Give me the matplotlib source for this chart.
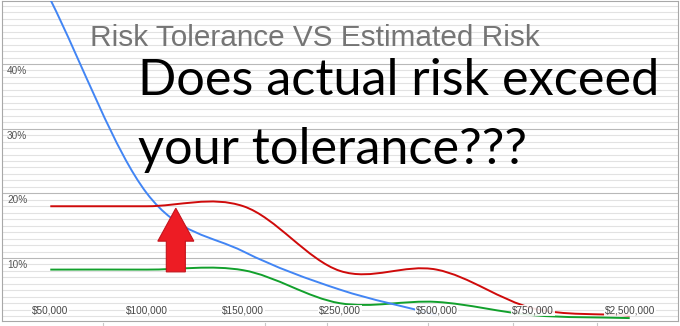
import matplotlib
matplotlib.use('Agg')
import matplotlib.pyplot as plt
import matplotlib.transforms as mtransforms
from matplotlib.path import Path
from matplotlib.patches import PathPatch, FancyArrow
from matplotlib.lines import Line2D

# income brackets on the category axis
categories = ['$50,000', '$100,000', '$150,000', '$250,000',
              '$500,000', '$750,000', '$2,500,000']
# estimated risk (%), only known up to $500,000
estimated_risk = [50.0, 20.0, 11.0, 5.1, 1.2]
# tolerance band (%)
tolerance_high = [18.0, 18.0, 18.0, 8.0, 8.2, 2.2, 1.1]
tolerance_low = [8.2, 8.2, 8.1, 3.0, 3.2, 1.15, 0.7]
y_ticks = [10, 20, 30, 40]

W, H = 680, 326
fig = plt.figure(figsize=(W / 100, H / 100), dpi=100)
ax = fig.add_axes([2 / W, 5 / H, 676 / W, 320 / H])
ax.set_xlim(-0.5, 6.5)
ax.set_ylim(0.25, 49.75)
ax.set_xticks([])
ax.set_yticks([])
for s in ax.spines.values():
    s.set_color('#a8a8a8')
    s.set_linewidth(0.8)

# gridlines: light every 1%, darker every 10%
for v in range(1, 50):
    major = v % 10 == 0
    ax.axhline(v, color='#b8b8b8' if major else '#e2e2e2',
               lw=0.8, zorder=0)


def smooth_path(vals):
    # cardinal spline through the points, written as cubic bezier segments
    n = len(vals)
    xs = list(range(n))
    slopes = []
    for i in range(n):
        if i == 0:
            slopes.append(vals[1] - vals[0])
        elif i == n - 1:
            slopes.append(vals[-1] - vals[-2])
        else:
            slopes.append((vals[i + 1] - vals[i - 1]) / 2)
    verts = [(xs[0], vals[0])]
    codes = [Path.MOVETO]
    for i in range(n - 1):
        verts += [(xs[i] + 1 / 3, vals[i] + slopes[i] / 3),
                  (xs[i + 1] - 1 / 3, vals[i + 1] - slopes[i + 1] / 3),
                  (xs[i + 1], vals[i + 1])]
        codes += [Path.CURVE4] * 3
    return Path(verts, codes)


for vals, col in [(tolerance_low, '#12a02c'),
                  (estimated_risk, '#4285f4'),
                  (tolerance_high, '#cf0a0a')]:
    ax.add_patch(PathPatch(smooth_path(vals), fill=False, edgecolor=col,
                           lw=1.4, zorder=3))

# y labels sit just under their gridline, inside the plot
ytrans = mtransforms.blended_transform_factory(ax.transAxes, ax.transData)
for v in y_ticks:
    ax.annotate(f'{v}%', xy=(0, v), xycoords=ytrans, xytext=(5, -7),
                textcoords='offset pixels', ha='left', va='center',
                fontsize=7.2, color='#555555', family='Liberation Sans')

# category labels drawn inside the plot on a white box
for i, lab in enumerate(categories):
    ax.text(i, 1.9, lab, ha='center', va='center', fontsize=7.2,
            color='#444444', family='Liberation Sans', zorder=5,
            bbox=dict(facecolor='white', edgecolor='none', pad=0.6,
                      alpha=0.9))

# red arrow pointing at the crossing
ax.add_patch(FancyArrow(1.30, 7.85, 0, 9.85, width=0.197, head_width=0.373,
                        head_length=5.1, length_includes_head=True,
                        facecolor='#ed1c24', edgecolor='#c4141c', lw=0.8,
                        zorder=6))

fig.text(90 / W, 1 - 46 / H, 'Risk Tolerance VS Estimated Risk',
         fontsize=21.4, color='#757575', family='Liberation Sans',
         ha='left', va='baseline')

t1 = fig.text(138 / W, 1 - 95 / H, 'Does actual risk exceed',
              fontsize=36, color='black', family='Lato',
              ha='left', va='baseline', zorder=10)
t2 = fig.text(138 / W, 1 - 164 / H, 'your tolerance???',
              fontsize=36, color='black', family='Lato',
              ha='left', va='baseline', zorder=10)
fig.canvas.draw()
w = t1.get_window_extent().width
size = 36 * 522 / w
t1.set_fontsize(size)
t2.set_fontsize(size)

# spreadsheet column edges peeking out below the chart
for x in [103, 265, 327, 428, 513, 597]:
    fig.add_artist(Line2D([x / W, x / W], [0, 3 / H], color='#c8c8c8',
                          lw=0.8, transform=fig.transFigure))

fig.savefig('out.png', dpi=100)
